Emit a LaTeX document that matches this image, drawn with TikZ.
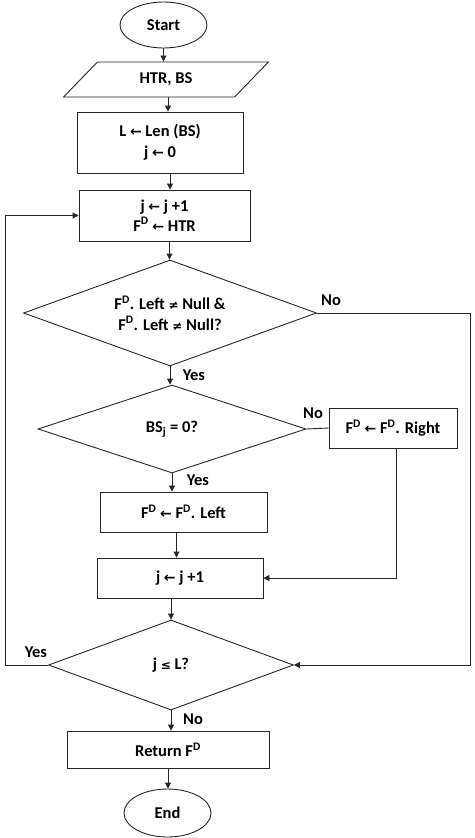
\documentclass[tikz,border=0pt]{standalone}
\usepackage{fontspec}
\setmainfont{Carlito}
\newfontfamily\symf{DejaVu Sans}
\usetikzlibrary{shapes.geometric,arrows.meta}
\newcommand{\la}{{\symf\bfseries\fontsize{14}{14}\selectfont ←}}
\newcommand{\FD}{F\textsuperscript{D}}
\newcommand{\sneq}{{\symf\bfseries\fontsize{12}{12}\selectfont ≠}}
\newcommand{\sle}{{\symf\bfseries\fontsize{12}{12}\selectfont ≤}}
\begin{document}
\begin{tikzpicture}[x=1pt,y=-1pt,
  every node/.style={font=\fontsize{16.5}{19.5}\selectfont\bfseries, inner sep=0pt},
  ln/.style={line width=0.9pt, draw=black!85},
  arr/.style={ln, -{Triangle[length=6pt,width=6pt]}},
  proc/.style={ln, rectangle, align=center},
  term/.style={ln, ellipse},
  dec/.style={ln, diamond, align=center},
  lbl/.style={font=\fontsize{16.5}{19.5}\selectfont\bfseries}]
\useasboundingbox (0,0) rectangle (474,838);
\node[term, minimum width=87pt, minimum height=46pt] (start) at (163.5,25) {Start};
\node[ln, trapezium, trapezium left angle=45, trapezium right angle=135, trapezium stretches=true, minimum width=206pt, minimum height=35pt] (para) at (166,79.5) {HTR, BS};
\node[proc, minimum width=166pt, minimum height=61pt] (b1) at (160,142.5) {L \la\ Len (BS)\\[2pt] j \la\ 0};
\node[proc, minimum width=171pt, minimum height=51pt] (b2) at (164.5,215.5) {j \la\ j +1\\ \FD\ \la\ HTR};
\node[dec, aspect=2.76, minimum width=293pt, minimum height=106pt] (d1) at (170,313) {\FD. Left \sneq\ Null \&\\[1pt] \FD. Left \sneq\ Null?};
\node[dec, aspect=3.05, minimum width=268pt, minimum height=88pt] (d2) at (172,429) {BS\textsubscript{j} = 0?};
\node[proc, minimum width=128pt, minimum height=40pt] (rb) at (393,428) {\FD\ \la\ \FD. Right};
\node[proc, minimum width=167pt, minimum height=40pt] (b3) at (183.5,512) {\FD\ \la\ \FD. Left};
\node[proc, minimum width=166pt, minimum height=40pt] (b4) at (180,578) {j \la\ j +1};
\node[dec, aspect=2.72, minimum width=245pt, minimum height=90pt] (d3) at (171,665) {j \sle\ L?};
\node[proc, minimum width=202pt, minimum height=37pt] (b5) at (168,749.5) {Return \FD};
\node[term, minimum width=87pt, minimum height=48pt] (end) at (167.5,813) {End};
\coordinate (rr) at (470,313);
\coordinate (ll) at (5,665);
% connectors
\draw[arr] (start.south) -- (start.south |- para.north);
\draw[arr] ([xshift=2pt]para.south) -- ([xshift=2pt]para.south |- b1.north);
\draw[arr] ([xshift=10pt]b1.south) -- ([xshift=10pt]b1.south |- b2.north);
\draw[arr] ([xshift=5pt]b2.south) -- ([xshift=5pt]b2.south |- d1.north);
\draw[arr] (d1.south) -- (d1.south |- d2.north);
\draw[arr] (d2.south) -- (d2.south |- b3.north);
\draw[arr] ([xshift=-7pt]b3.south) -- ([xshift=-7pt]b3.south |- b4.north);
\draw[arr] (d3.north |- b4.south) -- (d3.north);
\draw[arr] (d3.south) -- (d3.south |- b5.north);
\draw[arr] (b5.south) -- (b5.south |- end.north);
\draw[ln] (d2.east) -- (rb.west);
\draw[arr] ([xshift=3pt]rb.south) |- (b4.east);
\draw[arr] (d1.east) -- (rr) |- (d3.east);
\draw[arr] (d3.west) -- (ll) |- (b2.west);
% labels
\node[lbl] (n1) at (331,300) {No};
\node[lbl] (y1) at (194,375) {Yes};
\node[lbl] (n2) at (313,413) {No};
\node[lbl] (y2) at (198,480) {Yes};
\node[lbl] (y3) at (36,652) {Yes};
\node[lbl] (n3) at (193,719) {No};
\end{tikzpicture}
\end{document}
